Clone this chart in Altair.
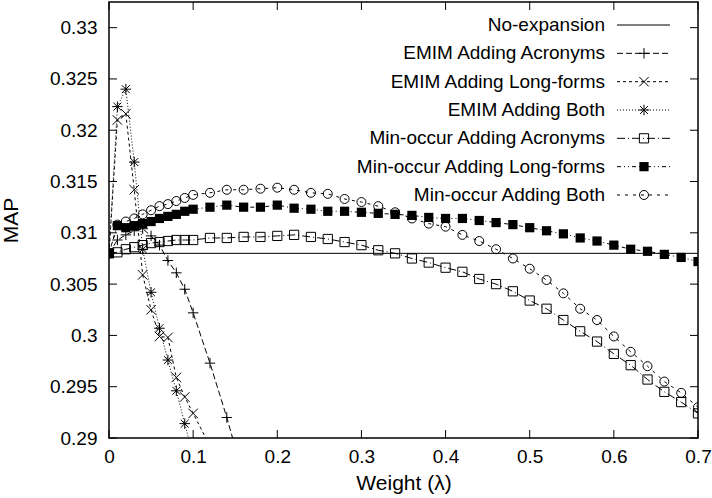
import altair as alt
import pandas as pd

# ---------------- data ----------------
weights = [0.00, 0.01, 0.02, 0.03, 0.04, 0.05, 0.06, 0.07, 0.08, 0.09, 0.10,
           0.12, 0.14, 0.16, 0.18, 0.20, 0.22, 0.24, 0.26, 0.28, 0.30,
           0.32, 0.34, 0.36, 0.38, 0.40, 0.42, 0.44, 0.46, 0.48, 0.50,
           0.52, 0.54, 0.56, 0.58, 0.60, 0.62, 0.64, 0.66, 0.68, 0.70]

noexp_w = [0.0, 0.7]
noexp_map = [0.308, 0.308]

emim_acr_w = [0.00, 0.01, 0.02, 0.03, 0.04, 0.05, 0.06, 0.07, 0.08, 0.09, 0.10, 0.12, 0.14, 0.16]
emim_acr = [0.3080, 0.3093, 0.3098, 0.3102, 0.3104, 0.3097, 0.3088, 0.3073, 0.3061, 0.3045,
            0.3022, 0.2973, 0.2920, 0.2862]

emim_long_w = [0.00, 0.01, 0.02, 0.03, 0.04, 0.05, 0.06, 0.07, 0.08, 0.09, 0.10, 0.12]
emim_long = [0.3080, 0.3210, 0.3216, 0.3142, 0.3059, 0.3025, 0.2999, 0.2998, 0.2959, 0.2940,
             0.2924, 0.2892]

emim_both_w = [0.00, 0.01, 0.02, 0.03, 0.04, 0.05, 0.06, 0.07, 0.08, 0.09, 0.10]
emim_both = [0.3080, 0.3223, 0.3240, 0.3169, 0.3084, 0.3042, 0.3007, 0.2976, 0.2946, 0.2914, 0.2883]

min_acr = [0.3080, 0.3081, 0.3084, 0.3086, 0.3088, 0.3090, 0.3091, 0.3092, 0.3093, 0.3093, 0.3093,
           0.3095, 0.3095, 0.3096, 0.3096, 0.3097, 0.3098, 0.3096, 0.3094, 0.3091, 0.3088,
           0.3083, 0.3080, 0.3075, 0.3071, 0.3066, 0.3062, 0.3055, 0.3050, 0.3043, 0.3034,
           0.3026, 0.3015, 0.3004, 0.2994, 0.2982, 0.2971, 0.2957, 0.2945, 0.2935, 0.2924]

min_long = [0.3080, 0.3107, 0.3105, 0.3107, 0.3109, 0.3111, 0.3114, 0.3116, 0.3118, 0.3121, 0.3123,
            0.3125, 0.3127, 0.3125, 0.3125, 0.3127, 0.3124, 0.3123, 0.3121, 0.3121, 0.3120,
            0.3119, 0.3118, 0.3117, 0.3115, 0.3114, 0.3114, 0.3112, 0.3110, 0.3108, 0.3105,
            0.3102, 0.3099, 0.3095, 0.3092, 0.3088, 0.3084, 0.3082, 0.3079, 0.3076, 0.3072]

min_both = [0.3080, 0.3108, 0.3111, 0.3114, 0.3118, 0.3122, 0.3126, 0.3128, 0.3131, 0.3134, 0.3137,
            0.3139, 0.3142, 0.3142, 0.3143, 0.3144, 0.3142, 0.3139, 0.3138, 0.3133, 0.3130,
            0.3126, 0.3120, 0.3114, 0.3109, 0.3106, 0.3098, 0.3092, 0.3084, 0.3075, 0.3065,
            0.3054, 0.3041, 0.3026, 0.3015, 0.2999, 0.2984, 0.2970, 0.2955, 0.2944, 0.2930]

series_names = ["No-expansion", "EMIM Adding Acronyms", "EMIM Adding Long-forms",
                "EMIM Adding Both", "Min-occur Adding Acronyms",
                "Min-occur Adding Long-forms", "Min-occur Adding Both"]

x_ticks = [0.0, 0.1, 0.2, 0.3, 0.4, 0.5, 0.6, 0.7]
y_ticks = [0.29, 0.295, 0.30, 0.305, 0.31, 0.315, 0.32, 0.325, 0.33]

# ---------------- styles ----------------
PLUS = "M-1,0L1,0M0,-1L0,1"
CROSS = "M-1,-1L1,1M-1,1L1,-1"
STAR = "M-1,0L1,0M0,-1L0,1M-0.75,-0.75L0.75,0.75M-0.75,0.75L0.75,-0.75"

styles = [
    dict(dash=None, shape=None, filled=False, size=0),
    dict(dash=[6, 3], shape=PLUS, filled=False, size=110),
    dict(dash=[3, 3], shape=CROSS, filled=False, size=90),
    dict(dash=[1, 2], shape=STAR, filled=False, size=110),
    dict(dash=[8, 3, 1, 3], shape="square", filled=False, size=85),
    dict(dash=[4, 3, 1, 3, 1, 3], shape="square", filled=True, size=85),
    dict(dash=[3, 5], shape="circle", filled=False, size=81),
]

series_data = [
    (noexp_w, noexp_map),
    (emim_acr_w, emim_acr),
    (emim_long_w, emim_long),
    (emim_both_w, emim_both),
    (weights, min_acr),
    (weights, min_long),
    (weights, min_both),
]

W, H = 589, 436
FONT = "Liberation Sans"

xscale = alt.Scale(domain=[0, 0.7], nice=False, zero=False)
yscale = alt.Scale(domain=[0.29, 0.3325], nice=False, zero=False)

xaxis = alt.Axis(values=x_ticks, format="~g", ticks=False, domain=False, grid=False,
                 labelFontSize=19, labelPadding=9, labelColor="black", labelFont=FONT,
                 title="Weight (λ)", titleFontSize=21, titleFontWeight="normal",
                 titleFont=FONT, titleColor="black", titleBaseline="alphabetic",
                 titleY=51, titleX=W / 2, titleAlign="center", labelFlush=False)
yaxis = alt.Axis(values=y_ticks, format="~g", ticks=False, domain=False, grid=False,
                 labelFontSize=19, labelPadding=12, labelColor="black", labelFont=FONT,
                 title="MAP", titleFontSize=21, titleFontWeight="normal",
                 titleFont=FONT, titleColor="black", titleAngle=270,
                 titleBaseline="alphabetic", titleAlign="center",
                 titleX=-92, titleY=H / 2, labelFlush=False)


def X():
    return alt.X("w:Q", scale=xscale, axis=xaxis)


def Y():
    return alt.Y("map:Q", scale=yscale, axis=yaxis)


layers = []

for (xs, ys), st in zip(series_data, styles):
    df = pd.DataFrame({"w": xs, "map": ys})
    line_kw = dict(color="black", strokeWidth=1, clip=True)
    if st["dash"]:
        line_kw["strokeDash"] = st["dash"]
    layers.append(alt.Chart(df).mark_line(**line_kw).encode(x=X(), y=Y()))
    if st["shape"]:
        pt_kw = dict(shape=st["shape"], size=st["size"], filled=st["filled"],
                     color="black", strokeWidth=1, opacity=1, clip=True)
        if not st["filled"]:
            pt_kw["fillOpacity"] = 0
        layers.append(alt.Chart(df).mark_point(**pt_kw).encode(x=X(), y=Y()))

# inward ticks on all four sides
TL = 8
ydf = pd.DataFrame({"map": y_ticks})
xdf = pd.DataFrame({"w": x_ticks})
layers.append(alt.Chart(ydf).mark_rule(color="black", strokeWidth=1).encode(
    y=Y(), x=alt.value(0), x2=alt.value(TL)))
layers.append(alt.Chart(ydf).mark_rule(color="black", strokeWidth=1).encode(
    y=Y(), x=alt.value(W - TL), x2=alt.value(W)))
layers.append(alt.Chart(xdf).mark_rule(color="black", strokeWidth=1).encode(
    x=X(), y=alt.value(H), y2=alt.value(H - TL)))
layers.append(alt.Chart(xdf).mark_rule(color="black", strokeWidth=1).encode(
    x=X(), y=alt.value(0), y2=alt.value(TL)))

# legend (gnuplot style: right-aligned label, sample to the right)
LX_TEXT, LX1, LX2, LXM = 496, 508, 561, 535
for i, (name, st) in enumerate(zip(series_names, styles)):
    yr = 23 + 28.33 * i
    tdf = pd.DataFrame({"label": [name]})
    layers.append(alt.Chart(tdf).mark_text(align="right", baseline="middle", fontSize=19,
                                           font=FONT, color="black").encode(
        text="label:N", x=alt.value(LX_TEXT), y=alt.value(yr)))
    rule_kw = dict(color="black", strokeWidth=1)
    if st["dash"]:
        rule_kw["strokeDash"] = st["dash"]
    layers.append(alt.Chart(tdf).mark_rule(**rule_kw).encode(
        x=alt.value(LX1), x2=alt.value(LX2), y=alt.value(yr)))
    if st["shape"]:
        pt_kw = dict(shape=st["shape"], size=st["size"], filled=st["filled"],
                     color="black", strokeWidth=1, opacity=1)
        if not st["filled"]:
            pt_kw["fillOpacity"] = 0
        layers.append(alt.Chart(tdf).mark_point(**pt_kw).encode(
            x=alt.value(LXM), y=alt.value(yr)))

chart = alt.layer(*layers).properties(
    width=W, height=H,
    autosize=alt.AutoSizeParams(type="none"),
    padding={"left": 109, "top": 2, "right": 14, "bottom": 60},
    background="white",
).configure(font=FONT, view=alt.ViewConfig(stroke="black", strokeWidth=1.5))

chart.save("out.html", embed_options={"renderer": "svg", "actions": False})
